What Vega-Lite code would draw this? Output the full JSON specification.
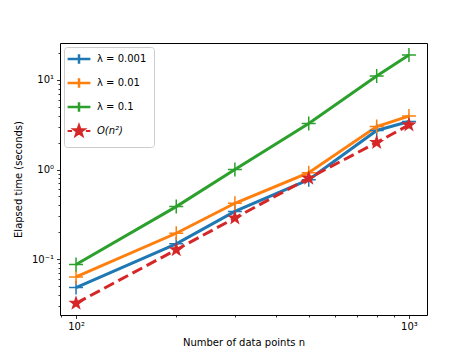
{
  "$schema": "https://vega.github.io/schema/vega-lite/v6.json",
  "width": 367,
  "height": 272,
  "autosize": {"type": "none"},
  "padding": {"left": 60, "top": 43, "right": 47, "bottom": 40},
  "background": "white",
  "config": {
    "view": {"stroke": "black", "strokeWidth": 1},
    "font": "DejaVu Sans",
    "axis": {
      "domain": false, "grid": false, "ticks": true, "tickColor": "black", "tickWidth": 0.8,
      "labelFont": "DejaVu Sans", "labelFontSize": 10, "labelColor": "black", "labelPadding": 3,
      "labelOverlap": false, "labelFlush": false,
      "titleFont": "DejaVu Sans", "titleFontSize": 10, "titleFontWeight": "normal", "titleColor": "black"
    },
    "legend": {
      "labelFont": "DejaVu Sans", "labelFontSize": 10, "labelColor": "black"
    }
  },
  "data": {"values": [
    {"series": "λ = 0.001", "n": 100, "t": 0.048},
    {"series": "λ = 0.001", "n": 200, "t": 0.148},
    {"series": "λ = 0.001", "n": 300, "t": 0.34},
    {"series": "λ = 0.001", "n": 500, "t": 0.77},
    {"series": "λ = 0.001", "n": 800, "t": 2.73},
    {"series": "λ = 0.001", "n": 1000, "t": 3.44},
    {"series": "λ = 0.01", "n": 100, "t": 0.063},
    {"series": "λ = 0.01", "n": 200, "t": 0.194},
    {"series": "λ = 0.01", "n": 300, "t": 0.42},
    {"series": "λ = 0.01", "n": 500, "t": 0.92},
    {"series": "λ = 0.01", "n": 800, "t": 3.02},
    {"series": "λ = 0.01", "n": 1000, "t": 3.95},
    {"series": "λ = 0.1", "n": 100, "t": 0.087},
    {"series": "λ = 0.1", "n": 200, "t": 0.385},
    {"series": "λ = 0.1", "n": 300, "t": 1.0},
    {"series": "λ = 0.1", "n": 500, "t": 3.27},
    {"series": "λ = 0.1", "n": 800, "t": 11.1},
    {"series": "λ = 0.1", "n": 1000, "t": 19.0},
    {"series": "O(n²)", "n": 100, "t": 0.032},
    {"series": "O(n²)", "n": 200, "t": 0.127},
    {"series": "O(n²)", "n": 300, "t": 0.287},
    {"series": "O(n²)", "n": 500, "t": 0.8},
    {"series": "O(n²)", "n": 800, "t": 2.0},
    {"series": "O(n²)", "n": 1000, "t": 3.15}
  ]},
  "encoding": {
    "x": {
      "field": "n", "type": "quantitative",
      "scale": {"type": "log", "domain": [89.5, 1133], "nice": false},
      "axis": {
        "title": "Number of data points n",
        "values": [90, 100, 200, 300, 400, 500, 600, 700, 800, 900, 1000],
        "labelExpr": "datum.value == 100 ? '10²' : datum.value == 1000 ? '10³' : ''",
        "tickSize": {"condition": {"test": "datum.value == 100 || datum.value == 1000", "value": 3.5}, "value": 2},
        "titlePadding": 6
      }
    },
    "y": {
      "field": "t", "type": "quantitative",
      "scale": {"type": "log", "domain": [0.0237, 25.9], "nice": false},
      "axis": {
        "title": "Elapsed time (seconds)",
        "values": [0.03, 0.04, 0.05, 0.06, 0.07, 0.08, 0.09, 0.1, 0.2, 0.3, 0.4, 0.5, 0.6, 0.7, 0.8, 0.9, 1, 2, 3, 4, 5, 6, 7, 8, 9, 10, 20],
        "labelExpr": "datum.value == 0.1 ? '10⁻¹' : datum.value == 1 ? '10⁰' : datum.value == 10 ? '10¹' : ''",
        "tickSize": {"condition": {"test": "datum.value == 0.1 || datum.value == 1 || datum.value == 10", "value": 3.5}, "value": 2},
        "titlePadding": 8
      }
    }
  },
  "layer": [
    {
      "transform": [{"filter": "datum.series != 'O(n²)'"}],
      "mark": {"type": "line", "strokeWidth": 3, "clip": true},
      "encoding": {
        "color": {
          "field": "series", "type": "nominal",
          "scale": {"domain": ["λ = 0.001", "λ = 0.01", "λ = 0.1", "O(n²)"], "range": ["#1f77b4", "#ff7f0e", "#2ca02c", "#d62728"]},
          "legend": {
            "title": null, "orient": "top-left", "offset": 4,
            "padding": 7, "strokeColor": "#cccccc", "fillColor": "white", "cornerRadius": 3,
            "symbolSize": 144, "labelOffset": 13, "rowPadding": 4, "symbolOffset": 3,
            "encode": {
              "symbols": {"update": {
                "shape": {"signal": "datum.value === 'O(n²)' ? 'M-1.9,0L-1.15,0M1.15,0L1.9,0M0,-1L0.235,-0.324L0.951,-0.309L0.380,0.124L0.588,0.809L0,0.4L-0.588,0.809L-0.380,0.124L-0.951,-0.309L-0.235,-0.324Z' : 'M-1.9,0L1.9,0M0,-0.8L0,0.8'"},
                "size": {"value": 144},
                "fill": {"signal": "datum.value === 'O(n²)' ? '#d62728' : 'transparent'"},
                "stroke": {"scale": "color", "field": "value"},
                "strokeWidth": {"signal": "datum.value === 'O(n²)' ? 2 : 2.5"},
                "opacity": {"value": 1}
              }},
              "labels": {"update": {
                "fontStyle": {"signal": "datum.value === 'O(n²)' ? 'italic' : 'normal'"}
              }}
            }
          }
        }
      }
    },
    {
      "transform": [{"filter": "datum.series != 'O(n²)'"}],
      "mark": {"type": "point", "shape": "M-1,0L1,0M0,-1L0,1", "size": 196, "filled": false, "strokeWidth": 1.5, "opacity": 1, "clip": true},
      "encoding": {"color": {"field": "series", "type": "nominal"}}
    },
    {
      "transform": [{"filter": "datum.series == 'O(n²)'"}],
      "mark": {"type": "line", "strokeWidth": 3, "strokeDash": [11, 5], "clip": true},
      "encoding": {"color": {"field": "series", "type": "nominal"}}
    },
    {
      "transform": [{"filter": "datum.series == 'O(n²)'"}],
      "mark": {"type": "point", "shape": "M0,-1L0.235,-0.324L0.951,-0.309L0.380,0.124L0.588,0.809L0,0.4L-0.588,0.809L-0.380,0.124L-0.951,-0.309L-0.235,-0.324Z", "size": 256, "filled": true, "opacity": 1, "clip": true},
      "encoding": {"color": {"field": "series", "type": "nominal"}}
    }
  ]
}
